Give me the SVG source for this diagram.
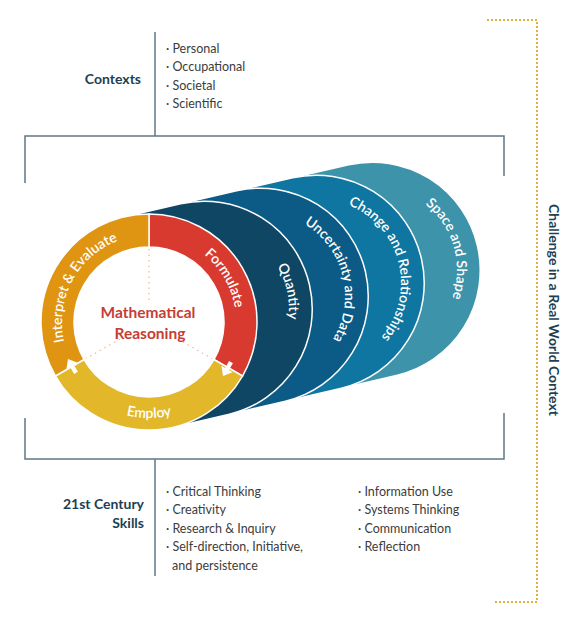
<svg xmlns="http://www.w3.org/2000/svg" width="575" height="631" viewBox="0 0 575 631">
<style>
.frame{fill:none;stroke:#5f7787;stroke-width:1.5}
.dots{fill:none;stroke:#e2b33a;stroke-width:2;stroke-dasharray:2 2}
.head{font-family:Lato,"Noto Sans",sans-serif;font-weight:700;font-size:14px;fill:#1d3f53}
.item{font-family:Lato,"Noto Sans",sans-serif;font-size:12.5px;fill:#3c3c3c}
.lbl{font-family:Lato,"Noto Sans",sans-serif;font-weight:600;font-size:14px;fill:#ffffff}
.seg{stroke:#ffffff;stroke-width:1.5}
.layer{stroke:#ffffff;stroke-width:1.5}
.guide{stroke:#f2b58f;stroke-width:1.2;stroke-dasharray:1.5 4;fill:none}
.arrow{fill:#ffffff}
</style>
<defs>
<path id="pQ" d="M219.59,226.28 A84,84 0 0 1 251.97,378.64"/>
<path id="pU" d="M269.78,212.46 A84,84 0 0 1 307.97,365.64"/>
<path id="pC" d="M325.78,199.46 A84,84 0 0 1 363.97,352.64"/>
<path id="pS" d="M378.86,186.2 A84,84 0 0 1 422.37,337.96"/>
<path id="pF" d="M133.9,236.32 A87,87 0 0 1 215.64,377.92"/>
<path id="pE" d="M81.12,389.88 A96,96 0 0 0 216.88,389.88"/>
<path id="pI" d="M84.35,380.21 A87,87 0 0 1 161.11,235.85"/>
<path id="arr" d="M-2.2,-8 L2.2,-8 L2.2,0 L6.5,0 L0,8 L-6.5,0 L-2.2,0 Z"/>
</defs>

<g id="connectors">
<line class="frame" x1="155" y1="32" x2="155" y2="136"/>
<path class="frame" d="M25,183 V136 H504 V176"/>
<path class="frame" d="M25,418 V459 H504 V413"/>
<line class="frame" x1="155" y1="459" x2="155" y2="576"/>
<path class="dots" d="M487,20 H537 V602 H495"/>
</g>

<g id="contexts">
<text class="head" x="141" y="84" text-anchor="end">Contexts</text>
<text class="item" x="166" y="53">· Personal</text>
<text class="item" x="166" y="71">· Occupational</text>
<text class="item" x="166" y="90">· Societal</text>
<text class="item" x="166" y="108">· Scientific</text>
</g>

<g id="layer-space">
<path class="layer" fill="#3d93aa" d="M124.58,216.8 L348.58,164.8 A108,108 0 0 1 397.42,375.2 L173.42,427.2 A108,108 0 0 1 124.58,216.8 Z"/>
<text class="lbl"><textPath href="#pS" startOffset="50%" text-anchor="middle">Space and Shape</textPath></text>
</g>
<g id="layer-change">
<path class="layer" fill="#0e76a1" d="M124.58,216.8 L292.58,177.8 A108,108 0 0 1 341.42,388.2 L173.42,427.2 A108,108 0 0 1 124.58,216.8 Z"/>
<text class="lbl"><textPath href="#pC" startOffset="50%" text-anchor="middle">Change and Relationships</textPath></text>
</g>
<g id="layer-uncertainty">
<path class="layer" fill="#0c5b86" d="M124.58,216.8 L236.58,190.8 A108,108 0 0 1 285.42,401.2 L173.42,427.2 A108,108 0 0 1 124.58,216.8 Z"/>
<text class="lbl"><textPath href="#pU" startOffset="50%" text-anchor="middle">Uncertainty and Data</textPath></text>
</g>
<g id="layer-quantity">
<path class="layer" fill="#0f4663" d="M124.58,216.8 L180.58,203.8 A108,108 0 0 1 229.42,414.2 L173.42,427.2 A108,108 0 0 1 124.58,216.8 Z"/>
<text class="lbl"><textPath href="#pQ" startOffset="50%" text-anchor="middle">Quantity</textPath></text>
</g>

<g id="ring">
<circle cx="149" cy="322" r="75" fill="#ffffff"/>
<path id="formulate" class="seg" fill="#d93a2f" d="M149,214 A108,108 0 0 1 242.53,376 L213.95,359.5 A75,75 0 0 0 149,247 Z"/>
<path id="employ" class="seg" fill="#e2b72a" d="M242.53,376 A108,108 0 0 1 55.47,376 L84.05,359.5 A75,75 0 0 0 213.95,359.5 Z"/>
<path id="interpret" class="seg" fill="#df9412" d="M55.47,376 A108,108 0 0 1 149,214 L149,247 A75,75 0 0 0 84.05,359.5 Z"/>
<text class="lbl"><textPath href="#pF" startOffset="50%" text-anchor="middle">Formulate</textPath></text>
<text class="lbl" font-size="15"><textPath href="#pE" startOffset="50%" text-anchor="middle">Employ</textPath></text>
<text class="lbl"><textPath href="#pI" startOffset="50%" text-anchor="middle">Interpret &amp; Evaluate</textPath></text>
<use href="#arr" class="arrow" transform="translate(227,369) rotate(30)"/>
<use href="#arr" class="arrow" transform="translate(72,366) rotate(150)"/>
</g>

<g id="center">
<line class="guide" x1="149" y1="249" x2="149" y2="302"/>
<line class="guide" x1="120" y1="339" x2="86" y2="358.5"/>
<line class="guide" x1="178" y1="339" x2="212" y2="358.5"/>
<text x="148" y="318" text-anchor="middle" font-family="Lato,'Noto Sans',sans-serif" font-weight="700" font-size="15.5" fill="#c63d35">Mathematical</text>
<text x="150" y="339" text-anchor="middle" font-family="Lato,'Noto Sans',sans-serif" font-weight="700" font-size="15.5" fill="#c63d35">Reasoning</text>
</g>

<g id="skills">
<text class="head" x="144" y="509" text-anchor="end">21st Century</text>
<text class="head" x="144" y="528" text-anchor="end">Skills</text>
<text class="item" x="166" y="496">· Critical Thinking</text>
<text class="item" x="166" y="514">· Creativity</text>
<text class="item" x="166" y="533">· Research &amp; Inquiry</text>
<text class="item" x="166" y="551">· Self-direction, Initiative,</text>
<text class="item" x="172" y="570">and persistence</text>
<text class="item" x="358" y="496">· Information Use</text>
<text class="item" x="358" y="514">· Systems Thinking</text>
<text class="item" x="358" y="533">· Communication</text>
<text class="item" x="358" y="551">· Reflection</text>
</g>

<g id="challenge">
<text class="head" transform="translate(549,310) rotate(90)" text-anchor="middle" font-size="13.5">Challenge in a Real World Context</text>
</g>
</svg>
